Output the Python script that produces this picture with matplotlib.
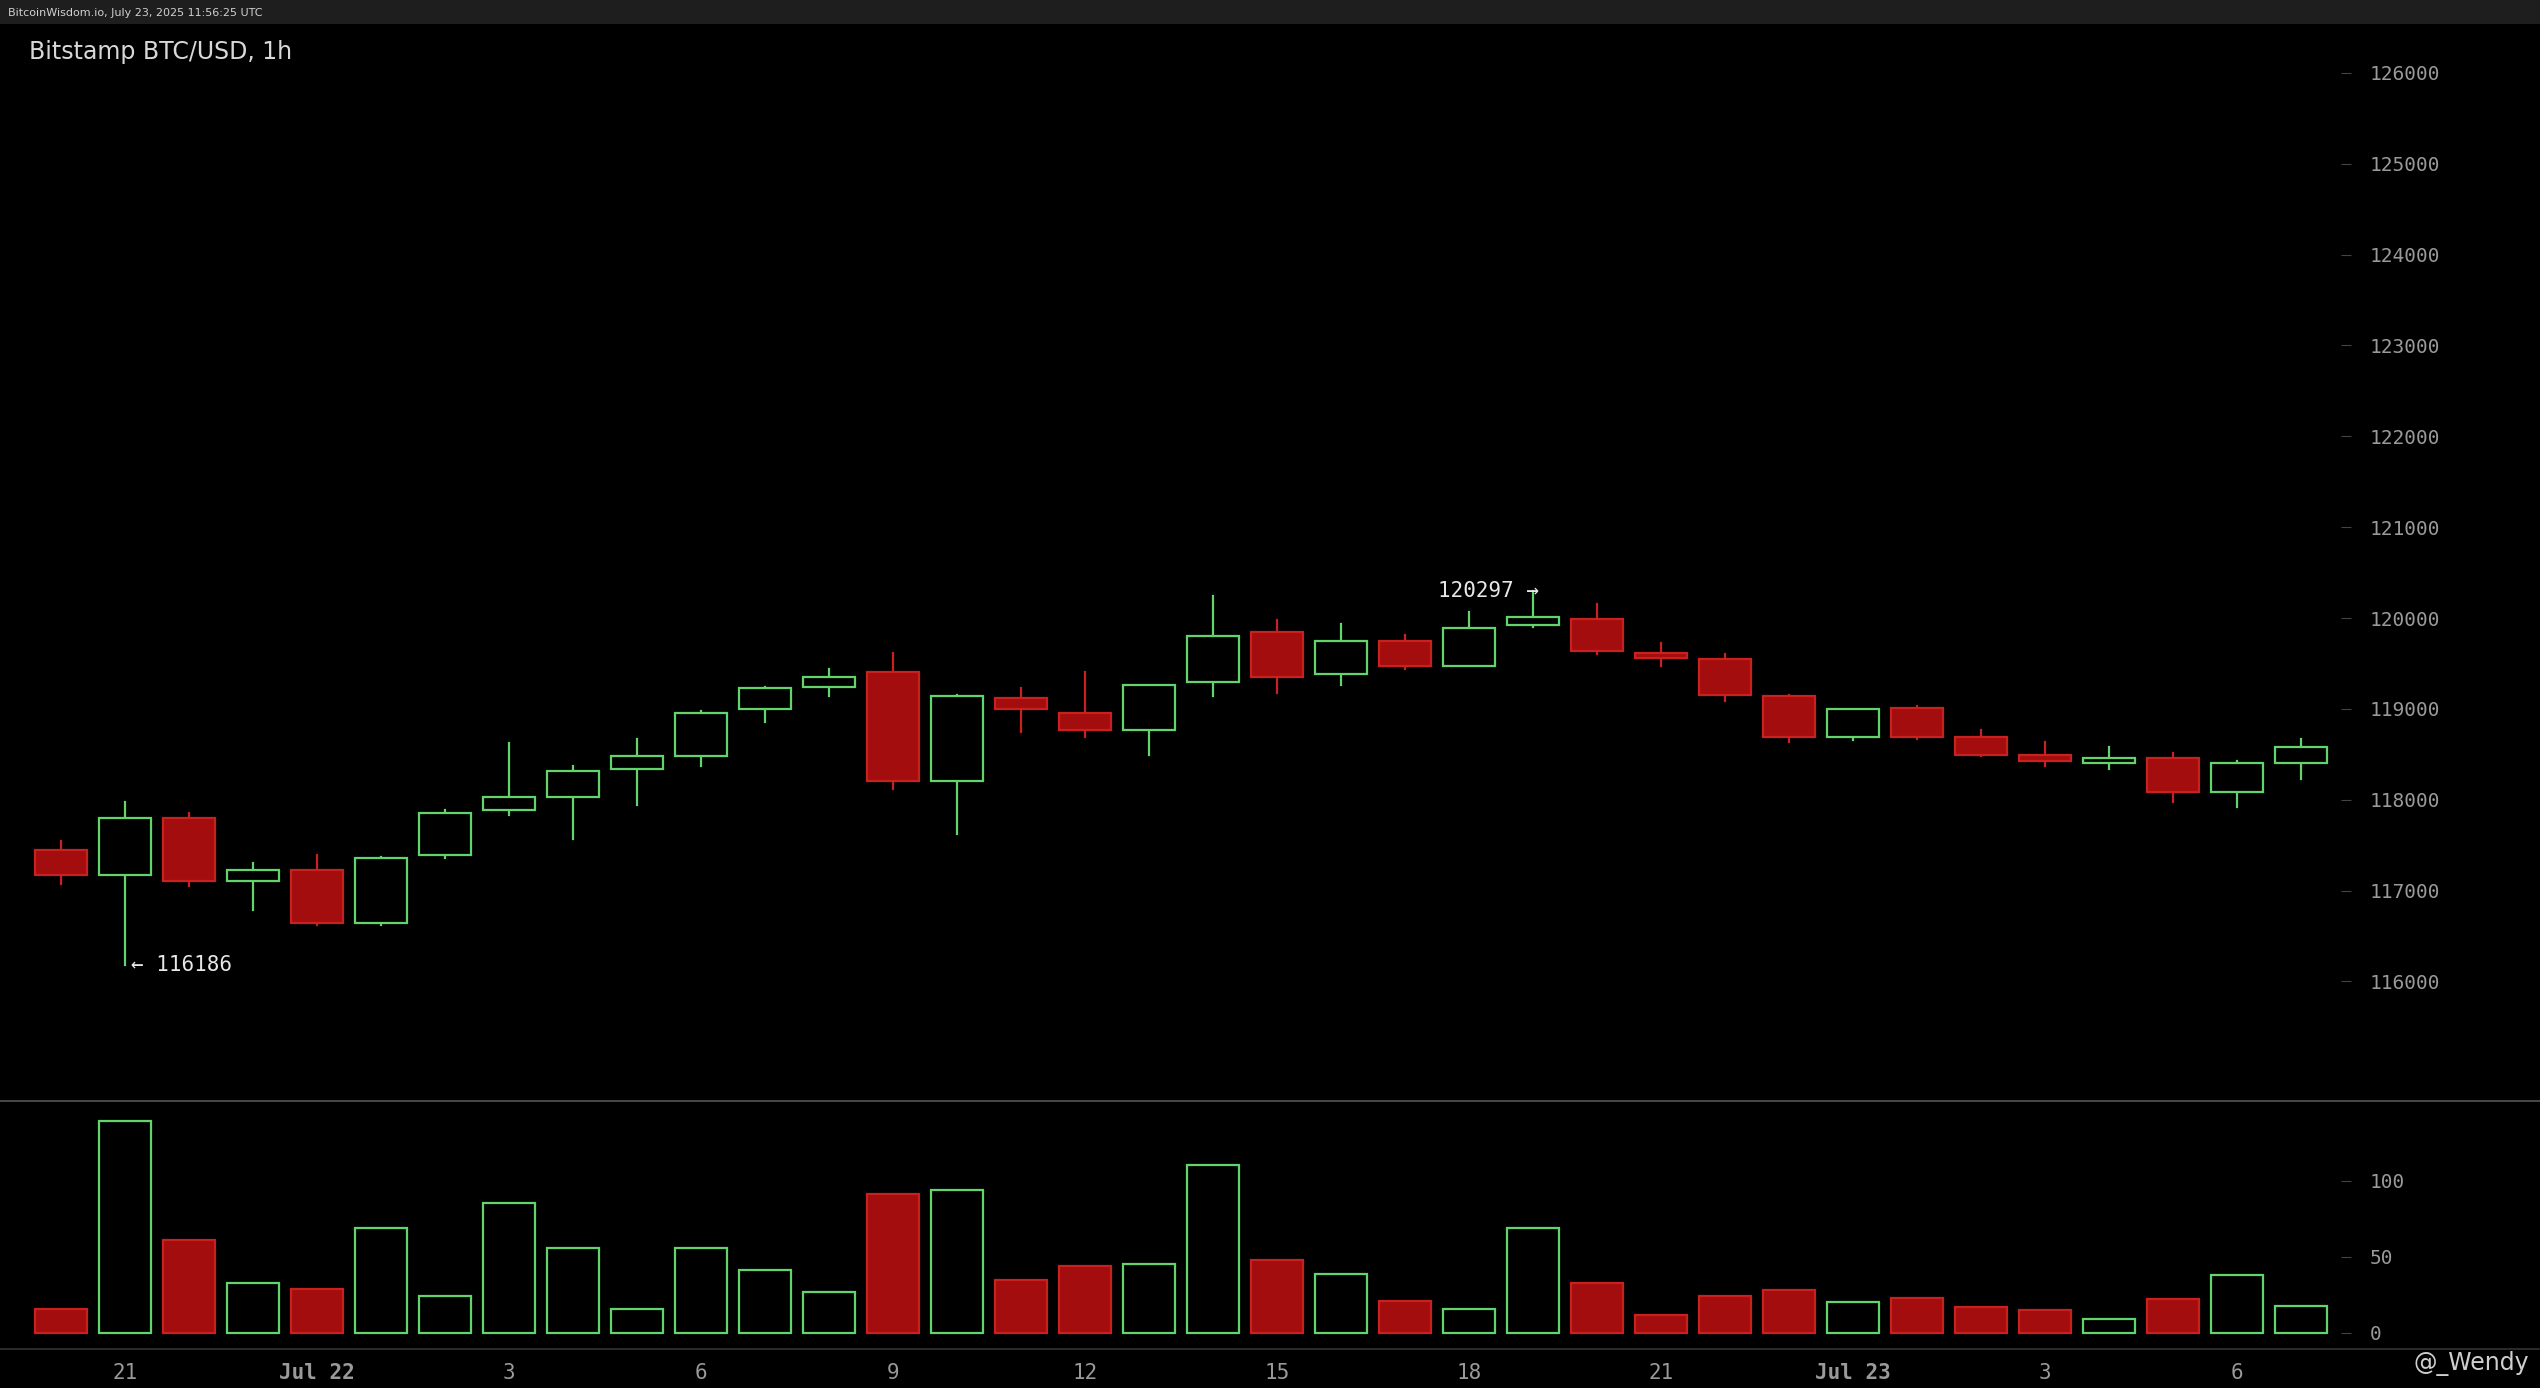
import matplotlib.pyplot as plt
from matplotlib.patches import Rectangle

# hourly candles, Jul 21 20:00 -> Jul 23 07:00 UTC
opens = [117444, 117177, 117800, 117105, 117230, 116642, 117391, 117890, 118032, 118335,
         118478, 118995, 119244, 119405, 118211, 119120, 118959, 118763, 119298, 119850,
         119387, 119744, 119476, 119922, 119993, 119619, 119547, 119137, 118692, 119013,
         118692, 118495, 118407, 118460, 118086, 118407]
highs = [117551, 117979, 117854, 117301, 117391, 117373, 117890, 118620, 118371, 118674,
         118977, 119244, 119440, 119619, 119155, 119227, 119405, 119262, 120243, 119975,
         119940, 119815, 120065, 120297, 120154, 119726, 119601, 119155, 118995, 119030,
         118763, 118638, 118585, 118513, 118424, 118674]
lows = [117069, 116186, 117052, 116784, 116620, 116624, 117355, 117836, 117569, 117943,
        118371, 118852, 119137, 118121, 117622, 118745, 118692, 118495, 119137, 119173,
        119262, 119440, 119476, 119904, 119601, 119476, 119084, 118638, 118656, 118674,
        118478, 118371, 118335, 117979, 117925, 118228]
closes = [117177, 117800, 117105, 117230, 116642, 117355, 117854, 118032, 118318, 118478,
          118959, 119227, 119351, 118211, 119137, 118995, 118763, 119262, 119797, 119351,
          119744, 119476, 119886, 120011, 119636, 119565, 119155, 118692, 118995, 118692,
          118495, 118424, 118460, 118086, 118407, 118585]
volumes = [16, 139, 61, 33, 29, 69, 24, 85, 56, 16, 56, 41, 27, 91, 94, 35, 44, 45, 110, 48,
           39, 21, 16, 69, 33, 12, 24, 28, 20, 23, 17, 15, 9, 22, 38, 18]

xtick_pos = [1, 4, 7, 10, 13, 16, 19, 22, 25, 28, 31, 34]
xtick_labels = ['21', 'Jul 22', '3', '6', '9', '12', '15', '18', '21', 'Jul 23', '3', '6']
price_ticks = list(range(116000, 126001, 1000))
vol_ticks = [0, 50, 100]

GREEN = '#62d46b'
RED_FILL = '#a30d0d'
RED_EDGE = '#c92020'
GRAY = '#9a9a9a'

fig = plt.figure(figsize=(25.4, 13.88), dpi=100, facecolor='#000000')
W, H = 1568, 857
x0, x1 = 0.001, 1445 / W
ax = fig.add_axes([x0, 1 - 680 / H, x1 - x0, (680 - 15) / H])
axv = fig.add_axes([x0, 1 - 833 / H, x1 - x0, (833 - 680) / H], sharex=ax)

for a in (ax, axv):
    a.set_facecolor('#000000')
    for s in a.spines.values():
        s.set_visible(False)
    a.yaxis.tick_right()
    a.tick_params(axis='y', colors='#444444', labelcolor=GRAY, labelsize=14, length=7,
                  pad=14, labelfontfamily='DejaVu Sans Mono')

bw = 0.82
for i in range(len(opens)):
    o, h, l, c = opens[i], highs[i], lows[i], closes[i]
    up = c >= o
    col = GREEN if up else RED_EDGE
    lo, hi = min(o, c), max(o, c)
    ax.plot([i, i], [hi, h], color=col, lw=1.6, zorder=1)
    ax.plot([i, i], [l, lo], color=col, lw=1.6, zorder=1)
    ax.add_patch(Rectangle((i - bw / 2, lo), bw, max(hi - lo, 15),
                           facecolor='#000000' if up else RED_FILL, edgecolor=col, lw=1.6, zorder=2))
    axv.add_patch(Rectangle((i - bw / 2, 0), bw, volumes[i],
                            facecolor='#000000' if up else RED_FILL, edgecolor=col, lw=1.6))

ax.set_xlim(-0.91, 35.62)
ax.set_ylim(114681, 126535)
ax.set_yticks(price_ticks)
ax.set_yticklabels([str(t) for t in price_ticks])
ax.tick_params(axis='x', bottom=False, labelbottom=False)

axv.set_ylim(-10.6, 152)
axv.set_yticks(vol_ticks)
axv.set_xticks(xtick_pos)
axv.set_xticklabels(xtick_labels)
axv.tick_params(axis='x', colors='#444444', labelcolor=GRAY, labelsize=15, length=0, pad=10,
                labelfontfamily='DejaVu Sans Mono')
for lab in axv.get_xticklabels():
    if lab.get_text().startswith('Jul'):
        lab.set_fontweight('bold')

# annotations
ax.text(23.1, 120297, '120297 →', color='#e8e8e8', fontsize=15, ha='right', va='center',
        family='DejaVu Sans Mono')
ax.text(1.1, 116186, '← 116186', color='#e8e8e8', fontsize=15, ha='left', va='center',
        family='DejaVu Sans Mono')

# frame, separators, header
fig.add_artist(plt.Line2D([0, 1], [1 - 680 / H] * 2, color='#555555', lw=1.2))
fig.add_artist(plt.Line2D([0, 1], [1 - 833 / H] * 2, color='#333333', lw=1.2))
fig.add_artist(Rectangle((0, 1 - 15 / H), 1, 15 / H, facecolor='#1e1e1e', edgecolor='none'))
fig.text(5 / W, 1 - 8 / H, 'BitcoinWisdom.io, July 23, 2025 11:56:25 UTC', color='#d0d0d0',
         fontsize=8, va='center')
fig.text(18 / W, 1 - 32 / H, 'Bitstamp BTC/USD, 1h', color='#d8d8d8', fontsize=17, va='center')
fig.text(1490 / W, 1 - 842 / H, '@_Wendy', color='#cfcfcf', fontsize=17, va='center')

fig.savefig('out.png', dpi=100, facecolor=fig.get_facecolor())
